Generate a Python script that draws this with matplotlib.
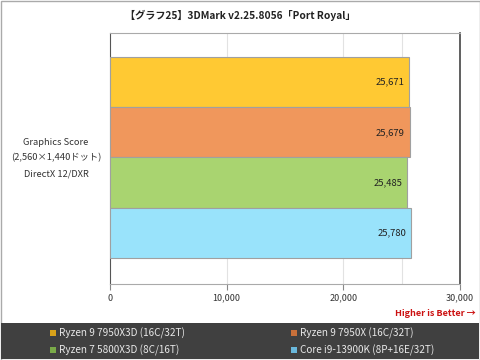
import matplotlib
matplotlib.use("Agg")
import matplotlib.pyplot as plt
from matplotlib.patches import Rectangle

plt.rcParams['font.family'] = ['Noto Sans CJK JP', 'DejaVu Sans']

# ---------------------------------------------------------------------
# data
# ---------------------------------------------------------------------
title = "【グラフ25】3DMark v2.25.8056「Port Royal」"
category = "Graphics Score\n(2,560×1,440ドット)\nDirectX 12/DXR"
cpus = ["Ryzen 9 7950X3D (16C/32T)", "Ryzen 9 7950X (16C/32T)",
        "Ryzen 7 5800X3D (8C/16T)", "Core i9-13900K (8P+16E/32T)"]
scores = [25671, 25679, 25485, 25780]
bar_colors = ["#FFC933", "#F0975C", "#A9D470", "#99E3FB"]
legend_colors = ["#D9A21A", "#C8703A", "#7AAA48", "#6AB8DC"]
xticks = [0, 10000, 20000, 30000]

# ---------------------------------------------------------------------
# figure
# ---------------------------------------------------------------------
fig = plt.figure(figsize=(4.8, 3.6), dpi=100)
ax = fig.add_axes([110 / 480, 76 / 360, 350 / 480, 251 / 360])

ypos = list(range(len(scores)))
ax.barh(ypos, scores, height=1.0, color=bar_colors, edgecolor="#A0A0A0",
        linewidth=0.8, zorder=3)
for y, v in zip(ypos, scores):
    ax.text(v - 400, y, f"{v:,}", ha="right", va="center", fontsize=6.8,
            color="#222222", zorder=4)

ax.set_xlim(0, 30000)
ax.set_ylim(4.02, -0.98)
ax.set_yticks([])
ax.set_xticks(xticks)
ax.set_xticklabels([f"{t:,}" for t in xticks], fontsize=6.5, color="#333333")
ax.tick_params(axis="x", length=4, width=0.8, color="#888888", pad=3)
for g in [10000, 20000, 25000]:
    ax.axvline(g, color="#E2E2E2", linewidth=0.8, zorder=1)

ax.spines["left"].set_color("#555555")
ax.spines["right"].set_color("#444444")
ax.spines["right"].set_linewidth(1.2)
ax.spines["top"].set_color("#AAAAAA")
ax.spines["bottom"].set_color("#AAAAAA")

fig.text(56 / 480, 1 - 158 / 360, category, ha="center", va="center",
         fontsize=6.7, color="#333333", linespacing=1.95)
fig.text(240 / 480, 1 - 15 / 360, title, ha="center", va="center",
         fontsize=7.3, fontweight="bold", color="#222222")
fig.text(476 / 480, 1 - 313 / 360, "Higher is Better →", ha="right",
         va="center", fontsize=6.5, fontweight="bold", color="#CC1111")

# outer border and legend band
fig.patches.append(Rectangle((0.5 / 480, 0.5 / 360), 479 / 480, 359 / 360,
                             transform=fig.transFigure, fill=False,
                             edgecolor="#AAAAAA", linewidth=1.0))
fig.patches.append(Rectangle((1 / 480, 1 / 360), 478 / 480, 36 / 360,
                             transform=fig.transFigure, facecolor="#404040",
                             edgecolor="none"))

lx = [50, 291]
ly = [333, 350]
for i, (lab, c) in enumerate(zip(cpus, legend_colors)):
    x = lx[i % 2]
    y = ly[i // 2]
    fig.patches.append(Rectangle((x / 480, 1 - (y + 3) / 360), 6 / 480, 6 / 360,
                                 transform=fig.transFigure, facecolor=c,
                                 edgecolor="none"))
    fig.text((x + 9) / 480, 1 - y / 360, lab, ha="left", va="center",
             fontsize=7.2, color="#E8E8E8")

fig.savefig("out.png", dpi=100)
